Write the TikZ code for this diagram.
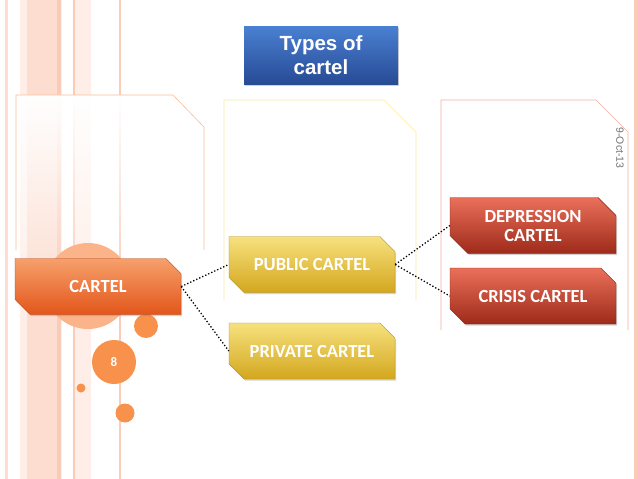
\documentclass[tikz,border=0pt]{standalone}
\usepackage{fontspec}
\setmainfont{Carlito}
\newfontfamily\arialf{Liberation Sans}
\usetikzlibrary{shapes.misc,shadows,fadings}
\definecolor{stripe}{HTML}{F9CBB9}
\definecolor{stripeM}{HTML}{FCDDD0}
\definecolor{stripeL}{HTML}{FEEEE7}
\definecolor{orT}{HTML}{F7A06C}
\definecolor{orB}{HTML}{E2561A}
\definecolor{yeT}{HTML}{F7E17E}
\definecolor{yeB}{HTML}{D3A71E}
\definecolor{reT}{HTML}{EA705A}
\definecolor{reB}{HTML}{9E2A1A}
\definecolor{blT}{HTML}{4A80D2}
\definecolor{blB}{HTML}{274B95}
\definecolor{circBig}{HTML}{FBB48A}
\definecolor{circ}{HTML}{F7914C}
\tikzset{
  cbox/.style={chamfered rectangle, chamfered rectangle corners={north east,south west},
    chamfered rectangle xsep=9pt, chamfered rectangle ysep=9pt, inner sep=0pt,
    minimum width=166pt, minimum height=56pt, text=white, font=\fontsize{18.5}{20}\selectfont\bfseries,
    align=center, drop shadow={shadow xshift=1pt, shadow yshift=-1.5pt, opacity=.35}},
  orbox/.style={cbox, top color=orT, bottom color=orB, draw=orB!80!black, line width=.4pt},
  yebox/.style={cbox, top color=yeT, bottom color=yeB, draw=yeB!85!black, line width=.4pt},
  rebox/.style={cbox, top color=reT, bottom color=reB, draw=reB!85!black, line width=.4pt},
  link/.style={dotted, line width=1.3pt, black},
  panel/.style={line width=.6pt},
  dot/.style={circle, fill=circ, inner sep=0pt}
}
\begin{document}
\begin{tikzpicture}[x=1pt,y=-1pt]
\useasboundingbox (0,0) rectangle (638,479);
\fill[white] (0,0) rectangle (638,479);
% left stripes
\fill[stripeM] (5,0) rectangle (8,479);
\fill[stripeL] (20,0) rectangle (62,479);
\fill[stripeM] (27,0) rectangle (57,479);
\fill[stripe] (57,0) rectangle (61,479);
\fill[stripe] (73,0) rectangle (75,479);
\fill[stripeL] (75,0) rectangle (91,479);
\fill[stripe] (119,0) rectangle (121,479);
% right stripe
\fill[stripe] (634,0) rectangle (638,479);
% panels
\fill[white, path fading=south] (16,95) -- (173,95) -- (204,127) -- (204,300) -- (16,300) -- cycle;
\draw[panel, draw=orT!70] (16,250) -- (16,95) -- (173,95) -- (204,127) -- (204,250);
\draw[panel, draw=yeT!70] (224,300) -- (224,100) -- (384,100) -- (416,132) -- (416,300);
\draw[panel, draw=reT!55] (441,330) -- (441,100) -- (596,100) -- (628,132) -- (628,330);
% circles
\fill[circBig] (88,286) circle (43);
\node[dot, minimum size=24pt] (c2) at (146,326) {};
\node[dot, minimum size=44pt, text=white, font=\fontsize{13}{14}\selectfont\bfseries] (page) at (114,362) {8};
\node[dot, minimum size=9pt] (c4) at (81,388) {};
\node[dot, minimum size=19pt] (c5) at (125,413) {};
% title
\node[rectangle, top color=blT, bottom color=blB, minimum width=154pt, minimum height=58pt,
  text=white, font=\arialf\fontsize{20.5}{24}\selectfont\bfseries, align=center,
  drop shadow={shadow xshift=1pt, shadow yshift=-1.5pt, opacity=.35}] (title) at (321,55) {Types of\\cartel};
% date
\node[rotate=-90, text=black!55, font=\arialf\fontsize{10.5}{12}\selectfont] (date) at (620,148) {9-Oct-13};
% boxes
\node[orbox] (cartel) at (98,286.5) {CARTEL};
\node[yebox] (public) at (312,264.5) {PUBLIC CARTEL};
\node[yebox] (private) at (312,351) {PRIVATE CARTEL};
\node[rebox] (depr) at (533,225.5) {DEPRESSION\\[-1pt]CARTEL};
\node[rebox] (crisis) at (533,296) {CRISIS CARTEL};
% links
\draw[link] (cartel.east) -- (public.west);
\draw[link] (cartel.east) -- (private.west);
\draw[link] (public.east) -- (depr.west);
\draw[link] (public.east) -- (crisis.west);
\end{tikzpicture}
\end{document}
